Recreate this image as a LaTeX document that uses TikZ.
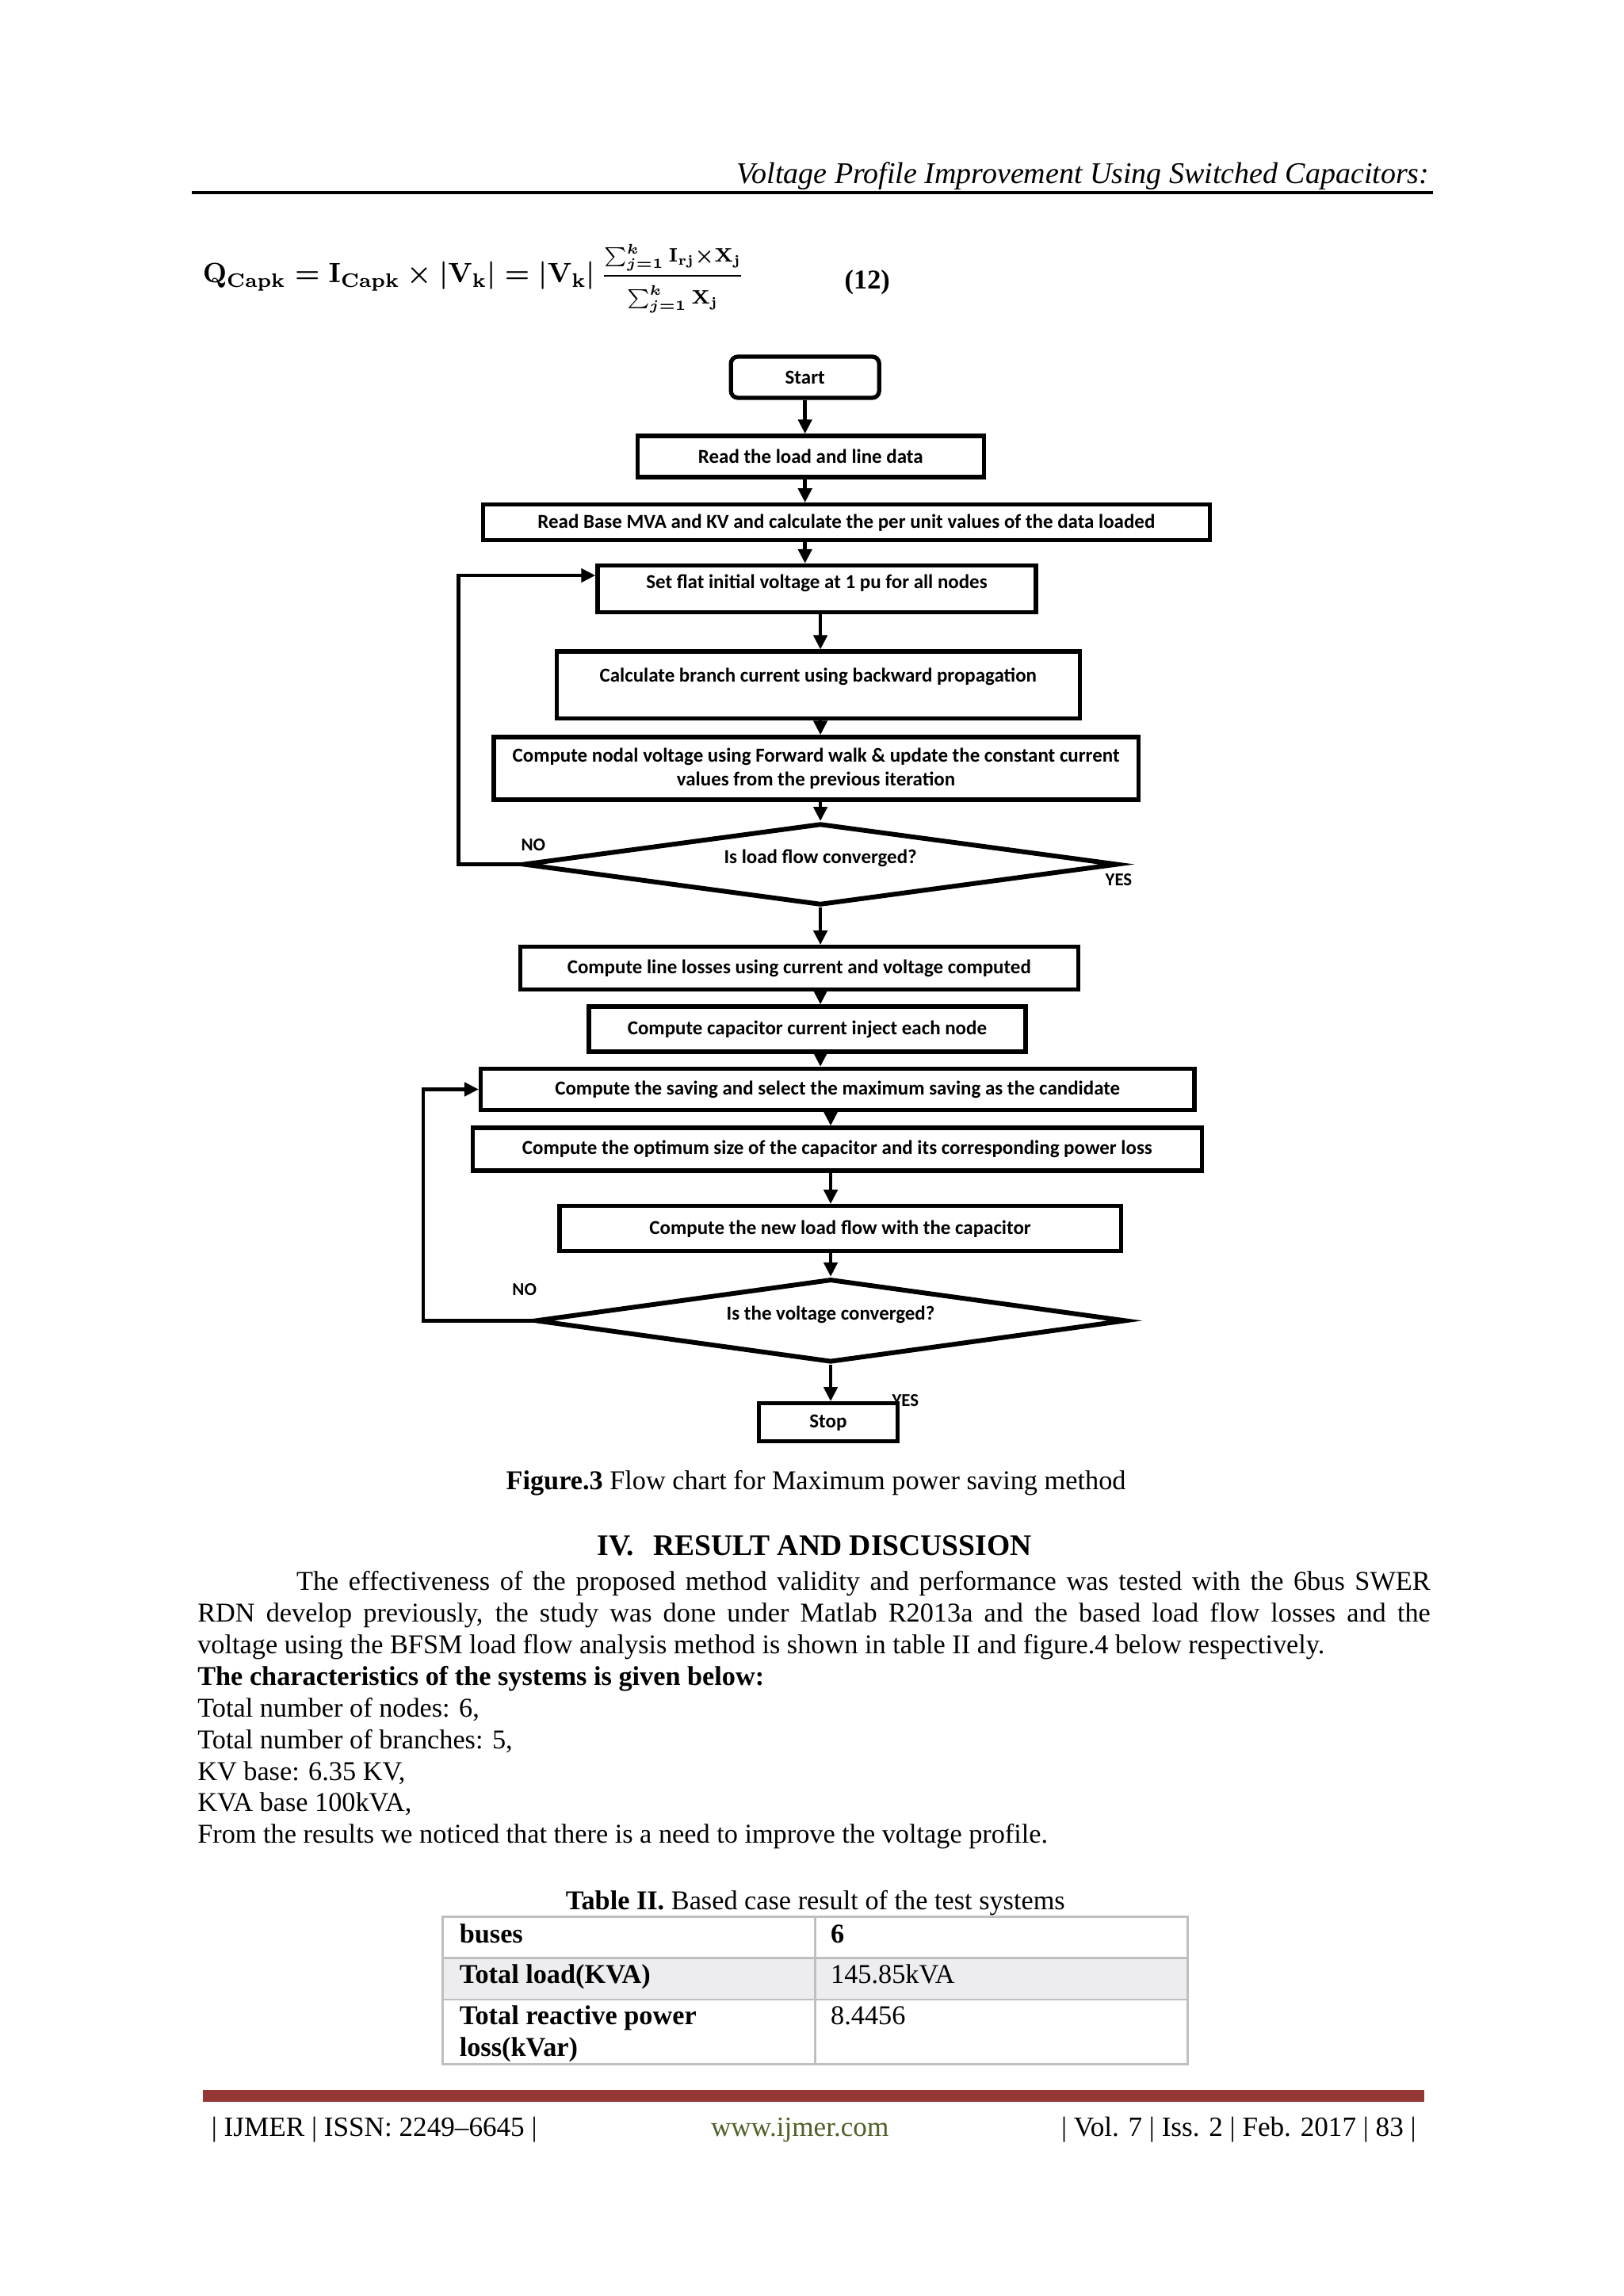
\documentclass[tikz,border=0pt]{standalone}
\usepackage{amsmath}
\usepackage{fontspec}
\setmainfont{Liberation Serif}
\newfontfamily\flowfont{Carlito}
\usetikzlibrary{arrows.meta,positioning,shapes.geometric}
\definecolor{barred}{HTML}{953735}
\definecolor{webolive}{HTML}{4F6228}
\definecolor{gridgray}{HTML}{BFBFBF}
\definecolor{rowshade}{HTML}{EDEDF0}
\newcommand{\qcapeq}{$\displaystyle \mathbf{Q}_{\mathbf{Capk}} = \mathbf{I}_{\mathbf{Capk}} \times \lvert\mathbf{V}_{\mathbf{k}}\rvert = \lvert\mathbf{V}_{\mathbf{k}}\rvert\,\frac{\scriptstyle\sum_{j=1}^{k}\mathbf{I}_{\mathbf{rj}}\times\mathbf{X}_{\mathbf{j}}}{\scriptstyle\sum_{j=1}^{k}\mathbf{X}_{\mathbf{j}}}$}

\begin{document}
\begin{tikzpicture}[
    x=0.01848cm, y=-0.01848cm,
    box/.style={rectangle, draw, line width=1.5pt, inner sep=1pt, align=center, font=\flowfont\bfseries\fontsize{7.1}{8.4}\selectfont},
    decision/.style={diamond, aspect=7.2, draw, line width=1.7pt, inner sep=0pt, text depth=5.5pt, font=\flowfont\bfseries\fontsize{7.1}{8.4}\selectfont},
    tag/.style={inner sep=0pt, font=\flowfont\bfseries\fontsize{6.5}{7}\selectfont},
    arr/.style={-{Triangle[length=1.8mm, width=1.7mm]}, line width=1.3pt},
    txt/.style={anchor=base west, inner sep=0pt, font=\fontsize{9.75}{11.5}\selectfont},
    txtb/.style={txt, font=\bfseries\fontsize{9.75}{11.5}\selectfont},
    tabline/.style={draw=gridgray, line width=0.8pt}
  ]
  \fill[white] (0,0) rectangle (1108,1567.3);
  \useasboundingbox (0,0) rectangle (1108,1567.3);

  % running head
  \node[anchor=base east, inner sep=0pt, font=\itshape\fontsize{10.8}{13}\selectfont] (runhead) at (976,125.5) {Voltage Profile Improvement Using Switched Capacitors:};
  \draw[line width=1.2pt] (131,131.5) -- (978,131.5);

  % equation (12)
  \node[anchor=west, inner sep=0pt, font={\fontsize{9.7}{11}\selectfont\boldmath}] (eq) at (138,190) {\qcapeq};
  \node[inner sep=0pt, font=\bfseries\fontsize{9.75}{11}\selectfont] (eqno) at (592,193) {(12)};

  % flow chart
  \node[box, rounded corners=2.5pt, minimum width=1.87cm, minimum height=0.52cm] (start) at (549.5,257.5) {Start};
  \node[box, minimum width=4.37cm, minimum height=0.52cm] (read) at (553.3,311.6) {Read the load and line data};
  \node[box, minimum width=9.17cm, minimum height=0.45cm] (perunit) at (577.7,356.7) {Read Base MVA and KV and calculate the per unit values of the data loaded};
  \node[box, minimum width=5.53cm, minimum height=0.59cm, text depth=5.3pt] (flat) at (557.5,402) {Set flat initial voltage at 1 pu for all nodes};
  \node[box, minimum width=6.60cm, minimum height=0.84cm, text depth=6.8pt] (branch) at (558.5,467.5) {Calculate branch current using backward propagation};
  \node[box, minimum width=8.13cm, minimum height=0.79cm] (nodal) at (557,524.5) {Compute nodal voltage using Forward walk \& update the constant current\\values from the previous iteration};
  \node[decision, minimum width=7.50cm, minimum height=1.03cm] (lfconv) at (560,590) {Is load flow converged?};
  \node[box, minimum width=7.04cm, minimum height=0.54cm] (losses) at (545.5,661) {Compute line losses using current and voltage computed};
  \node[box, minimum width=5.51cm, minimum height=0.57cm] (capinj) at (551,702.5) {Compute capacitor current inject each node};
  \node[box, minimum width=9.00cm, minimum height=0.52cm] (saving) at (571.7,743.6) {Compute the saving and select the maximum saving as the candidate};
  \node[box, minimum width=9.20cm, minimum height=0.54cm] (optsize) at (571.5,784.5) {Compute the optimum size of the capacitor and its corresponding power loss};
  \node[box, minimum width=7.08cm, minimum height=0.57cm] (newflow) at (573.5,838.7) {Compute the new load flow with the capacitor};
  \node[decision, minimum width=7.45cm, minimum height=1.05cm] (vconv) at (567,901.5) {Is the voltage converged?};
  \node[box, minimum width=1.75cm, minimum height=0.48cm] (stop) at (565.3,971) {Stop};

  \node[tag] (no1) at (364,577) {NO};
  \node[tag] (yes1) at (763.6,600.6) {YES};
  \node[tag] (no2) at (358,880) {NO};
  \node[tag] (yes2) at (618,956) {YES};

  \coordinate (loopA) at (313,0);
  \coordinate (loopB) at (289,0);

  \draw[arr] (start.south) -- (start.south |- read.north);
  \draw[arr] (read.south -| start.south) -- (perunit.north -| start.south);
  \draw[arr] (perunit.south -| start.south) -- (flat.north -| start.south);
  \draw[arr] (flat.south -| lfconv.north) -- (branch.north -| lfconv.north);
  \draw[arr] (branch.south -| lfconv.north) -- (nodal.north -| lfconv.north);
  \draw[arr] (nodal.south -| lfconv.north) -- (lfconv.north);
  \draw[arr] (lfconv.south) -- (lfconv.south |- losses.north);
  \draw[arr] (losses.south -| lfconv.south) -- (capinj.north -| lfconv.south);
  \draw[arr] (capinj.south -| lfconv.south) -- (saving.north -| lfconv.south);
  \draw[arr] (saving.south -| vconv.north) -- (optsize.north -| vconv.north);
  \draw[arr] (optsize.south -| vconv.north) -- (newflow.north -| vconv.north);
  \draw[arr] (newflow.south -| vconv.north) -- (vconv.north);
  \draw[arr] (vconv.south) -- (vconv.south |- stop.north);
  \draw[arr] (lfconv.west) -- (lfconv.west -| loopA) |- ([yshift=0.17cm]flat.west);
  \draw[arr] (vconv.west) -- (vconv.west -| loopB) |- (saving.west);

  % caption and section text
  \node[anchor=base, inner sep=0pt, font=\fontsize{9.75}{11}\selectfont] (figcap) at (557,1017) {\textbf{Figure.3} Flow chart for Maximum power saving method};
  \node[anchor=base, inner sep=0pt, font=\bfseries\fontsize{10.7}{13}\selectfont] (sechead) at (556,1061.5) {IV.\hspace{7pt}RESULT AND DISCUSSION};

  \node[txt] (par1) at (202,1085.5) {\makebox[14.30cm][s]{The effectiveness of the proposed method validity and performance was tested with the 6bus SWER}};
  \node[txt] (par2) at (134.5,1107.1) {\makebox[15.55cm][s]{RDN develop previously, the study was done under Matlab R2013a and the based load flow losses and the}};
  \node[txt] (par3) at (134.5,1128.7) {voltage using the BFSM load flow analysis method is shown in table II and figure.4 below respectively.};
  \node[txtb] (charhead) at (134.5,1150.3) {The characteristics of the systems is given below:};
  \node[txt] (nodes) at (134.5,1171.9) {Total number of nodes: 6,};
  \node[txt] (branches) at (134.5,1193.5) {Total number of branches: 5,};
  \node[txt] (kvbase) at (134.5,1215.1) {KV base: 6.35 KV,};
  \node[txt] (kvabase) at (134.5,1236.7) {KVA base 100kVA,};
  \node[txt] (remark) at (134.5,1258.3) {From the results we noticed that there is a need to improve the voltage profile.};

  % table II
  \node[anchor=base, inner sep=0pt, font=\fontsize{9.75}{11}\selectfont] (tabcap) at (556.6,1303.7) {\textbf{Table II.} Based case result of the test systems};
  \fill[rowshade] (302,1336.6) rectangle (810.6,1364.9);
  \draw[tabline] (302,1308.6) rectangle (810.6,1409);
  \draw[tabline] (302,1336.6) -- (810.6,1336.6);
  \draw[tabline] (302,1364.9) -- (810.6,1364.9);
  \draw[tabline] (556.3,1308.6) -- (556.3,1409);
  \node[txtb] (buses) at (313.3,1326.3) {buses};
  \node[txtb] (busval) at (566.7,1326.3) {6};
  \node[txtb] (load) at (313.3,1354) {Total load(KVA)};
  \node[txt] (loadval) at (566.7,1354) {145.85kVA};
  \node[txtb] (qloss) at (313.3,1382) {Total reactive power};
  \node[txtb] (qlossb) at (313.3,1403.8) {loss(kVar)};
  \node[txt] (qlossval) at (566.7,1382) {8.4456};

  % footer
  \fill[barred] (138.3,1426.4) rectangle (972,1435);
  \node[anchor=base west, inner sep=0pt, font=\fontsize{10}{12}\selectfont] (footl) at (144,1458) {| IJMER | ISSN: 2249–6645 |};
  \node[anchor=base, inner sep=0pt, text=webolive, font=\fontsize{10}{12}\selectfont] (footc) at (546,1458) {www.ijmer.com};
  \node[anchor=base east, inner sep=0pt, font=\fontsize{10}{12}\selectfont] (footr) at (967,1458) {| Vol. 7 | Iss. 2 | Feb. 2017 | 83 |};
\end{tikzpicture}
\end{document}
